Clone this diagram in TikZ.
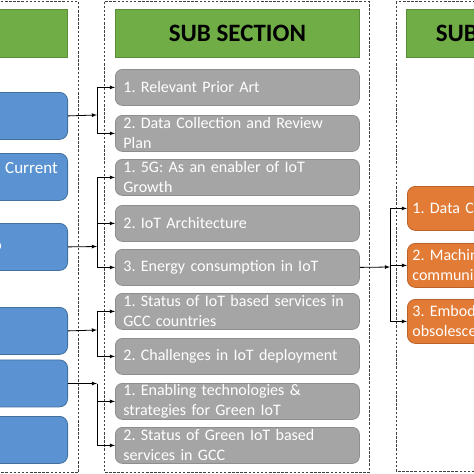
\documentclass[tikz,border=0pt]{standalone}
\usepackage{fontspec}
\setmainfont{Carlito}
\frenchspacing
\usetikzlibrary{
  calc,%
  arrows,
  positioning
}
\definecolor{hdrgreen}{HTML}{70AD47}
\definecolor{hdrgreenline}{HTML}{5A8C3A}
\definecolor{secblue}{HTML}{5B93D2}
\definecolor{secblueline}{HTML}{41719C}
\definecolor{topicgray}{HTML}{A5A5A5}
\definecolor{topicgrayline}{HTML}{8E8E8E}
\definecolor{subtopic}{HTML}{E27B36}
\definecolor{subtopicline}{HTML}{B9612A}
\tikzset{>=latex}
\tikzset{
  column/.style={draw=black!75, dash pattern=on 2.5pt off 1.6pt, line width=0.9pt},
  header/.style={rectangle, draw=hdrgreenline, fill=hdrgreen, line width=0.8pt,
    minimum height=48pt, inner sep=0pt,
    font=\fontsize{25}{30}\selectfont\bfseries},
  section/.style={rectangle, rounded corners=8pt, draw=secblueline, fill=secblue,
    line width=0.8pt, minimum width=260pt, minimum height=47pt},
  sectext/.style={text=white, inner sep=0pt, font=\fontsize{17}{20}\selectfont},
  topic/.style={rectangle, rounded corners=7pt, draw=topicgrayline, fill=topicgray,
    line width=0.8pt, text=white, minimum width=244pt, minimum height=36pt,
    inner xsep=8pt, inner ysep=0pt, text width=228pt, align=left,
    font=\fontsize{16}{20}\selectfont},
  subtopic/.style={rectangle, rounded corners=8pt, draw=subtopicline, fill=subtopic,
    line width=0.8pt, text=white, minimum width=244pt, minimum height=44pt,
    inner xsep=5pt, inner ysep=0pt, text width=234pt, align=left,
    font=\fontsize{16}{20}\selectfont},
  link/.style={->, line width=0.8pt},
  bracket/.style={line width=0.8pt}
}
\begin{document}
\begin{tikzpicture}[x=1pt, y=-1pt]
  \useasboundingbox (0,0) rectangle (474,474);
  \clip (0,0) rectangle (474,474);
  \fill[white] (0,0) rectangle (474,474);

  % dashed columns
  \draw[column] (-200,1.5) rectangle (78.5,472.5);
  \draw[column] (104.5,1.5) rectangle (369,472.5);
  \draw[column] (396,1.5) rectangle (700,471);

  % headers
  \node[header, minimum width=268pt, anchor=north east] (hsec) at (68,9) {};
  \node[header, minimum width=244pt, anchor=north west] (hsub) at (115,9) {SUB SECTION};
  \node[header, minimum width=196pt, anchor=north west] (hsubsub) at (406,9) {SUB SECTION};

  % sections
  \node[section, anchor=north east] (b1) at (68,92) {};
  \node[section, anchor=north east] (b2) at (68,153) {};
  \node[sectext, anchor=base east] (b2t) at (58,173) {and Current};
  \node[section, anchor=north east] (b3) at (68,223) {};
  \node[sectext, anchor=base east] (b3t) at (2,250) {o};
  \node[section, anchor=north east] (b4) at (68,307) {};
  \node[section, anchor=north east] (b5) at (68,359.5) {};
  \node[section, anchor=north east] (b6) at (68,416) {};

  % sub sections
  \node[topic, anchor=north west] (g1) at (115,69) {1. Relevant Prior Art};
  \node[topic, anchor=north west] (g2) at (115,115) {2. Data Collection and Review\\Plan};
  \node[topic, anchor=north west] (g3) at (115,159) {1. 5G: As an enabler of IoT\\Growth};
  \node[topic, anchor=north west] (g4) at (115,205) {2. IoT Architecture};
  \node[topic, anchor=north west] (g5) at (115,249) {3. Energy consumption in IoT};
  \node[topic, anchor=north west] (g6) at (115,293) {1. Status of IoT based services in\\GCC countries};
  \node[topic, anchor=north west] (g7) at (115,338) {2. Challenges in IoT deployment};
  \node[topic, anchor=north west] (g8) at (115,383) {1. Enabling technologies \&\\strategies for Green IoT};
  \node[topic, anchor=north west] (g9) at (115,427) {2. Status of Green IoT based\\services in GCC};

  % sub sub sections
  \node[subtopic, anchor=north west] (o1) at (407,186) {1. Data Centers};
  \node[subtopic, anchor=north west] (o2) at (407,243) {2. Machine-to-Machine\\communication};
  \node[subtopic, anchor=north west] (o3) at (407,299) {3. Embodied energy and\\obsolescence};

  % junctions
  \coordinate (j1) at (97,115);
  \coordinate (j2) at (97,246.5);
  \coordinate (j3) at (97,330);
  \coordinate (j4) at (97,383.5);
  \coordinate (j5) at (390,267);

  \draw[link] (b1.east) -- (j1);
  \draw[bracket] (j1 |- g1.west) -- (j1 |- g2.west);
  \draw[link] (j1 |- g1.west) -- (g1.west);
  \draw[link] (j1 |- g2.west) -- (g2.west);

  \draw[link] (b3.east) -- (j2);
  \draw[bracket] (j2 |- g3.west) -- (j2 |- g5.west);
  \draw[link] (j2 |- g3.west) -- (g3.west);
  \draw[link] (j2 |- g4.west) -- (g4.west);
  \draw[link] (j2 |- g5.west) -- (g5.west);

  \draw[link] (b4.east) -- (j3);
  \draw[bracket] (j3 |- g6.west) -- (j3 |- g7.west);
  \draw[link] (j3 |- g6.west) -- (g6.west);
  \draw[link] (j3 |- g7.west) -- (g7.west);

  \draw[link] (b5.east) -- (j4);
  \draw[bracket] (j4) -- (j4 |- g9.west);
  \draw[link] (j4 |- g8.west) -- (g8.west);
  \draw[link] (j4 |- g9.west) -- (g9.west);

  \draw[link] (g5.east) -- (j5);
  \draw[bracket] (j5 |- o1.west) -- (j5 |- o3.west);
  \draw[link] (j5 |- o1.west) -- (o1.west);
  \draw[link] (j5 |- o2.west) -- (o2.west);
  \draw[link] (j5 |- o3.west) -- (o3.west);
\end{tikzpicture}
\end{document}
